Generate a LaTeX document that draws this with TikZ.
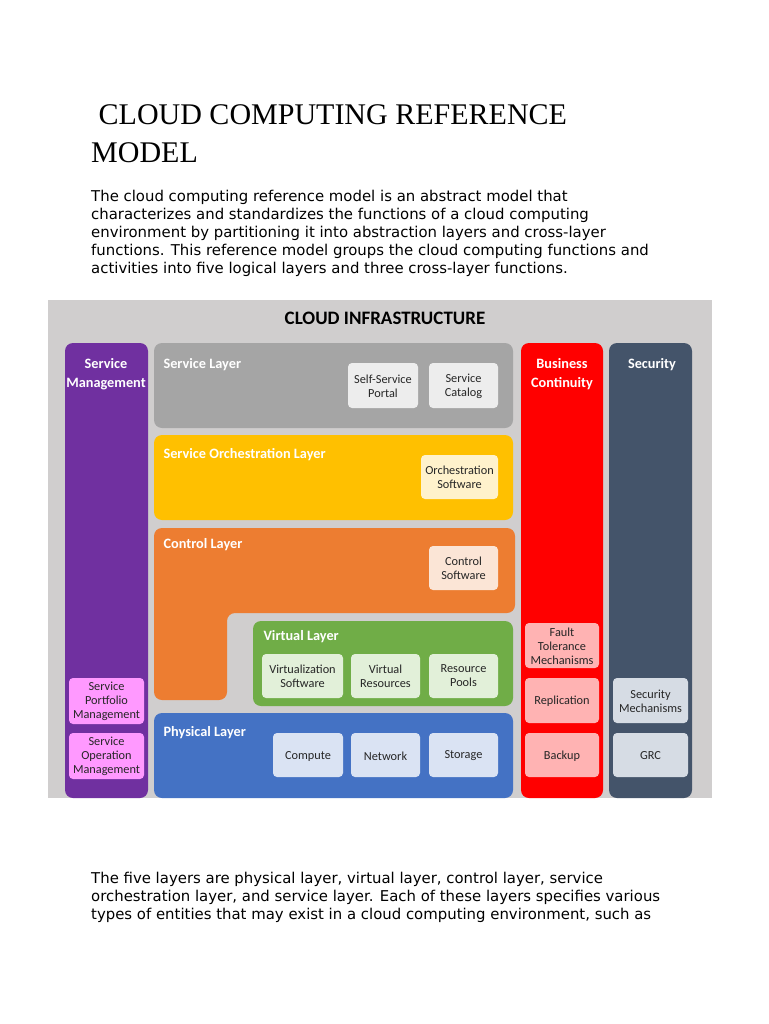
\documentclass[tikz,border=0pt]{standalone}
\usepackage{fontspec}
\setmainfont{DejaVu Sans}
\newfontfamily\myser{Liberation Serif}
\newfontfamily\mycal{Carlito}
\definecolor{bggray}{HTML}{D0CECE}
\definecolor{purp}{HTML}{7030A0}
\definecolor{pinkb}{HTML}{FF99FF}
\definecolor{lgray}{HTML}{A5A5A5}
\definecolor{boxg}{HTML}{EDEDED}
\definecolor{yel}{HTML}{FFC000}
\definecolor{boxy}{HTML}{FFF2CC}
\definecolor{ora}{HTML}{ED7D31}
\definecolor{boxo}{HTML}{FBE5D6}
\definecolor{grn}{HTML}{70AD47}
\definecolor{boxgr}{HTML}{E2F0D9}
\definecolor{blu}{HTML}{4472C4}
\definecolor{boxb}{HTML}{DAE3F3}
\definecolor{redb}{HTML}{FF0000}
\definecolor{boxr}{HTML}{FFB3B3}
\definecolor{sec}{HTML}{44546A}
\definecolor{boxs}{HTML}{D6DCE4}
\begin{document}
\begin{tikzpicture}[x=1pt,y=-1pt,
  lay/.style={rounded corners=8pt},
  sb/.style={rounded corners=4pt},
  bt/.style={font=\mycal\fontsize{12.3}{14}\selectfont,align=center,text=black!85},
  lt/.style={font=\mycal\bfseries\fontsize{14.3}{17}\selectfont,text=white,anchor=west},
  ct/.style={font=\mycal\bfseries\fontsize{14.3}{19}\selectfont,text=white,align=center},
  para/.style={font=\fontsize{14.9}{18}\selectfont,anchor=north west,align=left,inner sep=0}]
\useasboundingbox (0,0) rectangle (768,1024);
\fill[white] (0,0) rectangle (768,1024);
\node[font=\myser\fontsize{30}{38.5}\selectfont,anchor=north west,align=left,inner sep=0] (title) at (91,104) {\ CLOUD COMPUTING REFERENCE\\MODEL};
\node[para] (p1) at (91,190) {The cloud computing reference model is an abstract model that\\characterizes and standardizes the functions of a cloud computing\\environment by partitioning it into abstraction layers and cross-layer\\functions. This reference model groups the cloud computing functions and\\activities into five logical layers and three cross-layer functions.};
\node[para] (p2) at (91,872) {The five layers are physical layer, virtual layer, control layer, service\\orchestration layer, and service layer. Each of these layers specifies various\\types of entities that may exist in a cloud computing environment, such as};
% diagram
\fill[bggray] (48,300) rectangle (712,798);
\node[font=\mycal\bfseries\fontsize{19}{21}\selectfont] (ci) at (385,318) {CLOUD INFRASTRUCTURE};
% service management
\fill[purp,lay] (65,343) rectangle (148,798);
\node[ct] (sm) at (106,374) {Service\\Management};
\fill[pinkb,sb] (69,678) rectangle (144,724); \node[bt] (spm) at (106.5,701) {Service\\Portfolio\\Management};
\fill[pinkb,sb] (69,733) rectangle (144,779); \node[bt] (som) at (106.5,756) {Service\\Operation\\Management};
% service layer
\fill[lgray,lay] (154,343) rectangle (513,428);
\node[lt] (sl) at (160,365) {Service Layer};
\fill[boxg,sb] (348,363) rectangle (418,408); \node[bt] (ssp) at (383,386) {Self-Service\\Portal};
\fill[boxg,sb] (429,363) rectangle (498,408); \node[bt] (sc) at (463.5,386) {Service\\Catalog};
% orchestration
\fill[yel,lay] (154,435) rectangle (513,520);
\node[lt] (sol) at (160,455) {Service Orchestration Layer};
\fill[boxy,sb] (421,455) rectangle (498,499); \node[bt] (os) at (459.5,477) {Orchestration\\Software};
% control
\fill[ora,rounded corners=8pt] (154,528) -- (515,528) -- (515,613) -- (227,613) -- (227,700) -- (154,700) -- cycle;
\node[lt] (cl) at (160,545) {Control Layer};
\fill[boxo,sb] (429,546) rectangle (498,590); \node[bt] (cs) at (463.5,568) {Control\\Software};
% virtual
\fill[grn,lay] (253,621) rectangle (513,706);
\node[lt] (vl) at (260,637) {Virtual Layer};
\fill[boxgr,sb] (262,654) rectangle (343,698); \node[bt] (vs) at (302.5,676) {Virtualization\\Software};
\fill[boxgr,sb] (351,654) rectangle (420,698); \node[bt] (vr) at (385.5,676) {Virtual\\Resources};
\fill[boxgr,sb] (429,654) rectangle (498,698); \node[bt] (rp) at (463.5,676) {Resource\\Pools};
% physical
\fill[blu,lay] (154,713) rectangle (513,798);
\node[lt] (pl) at (160,733) {Physical Layer};
\fill[boxb,sb] (273,733) rectangle (343,777); \node[bt] (cp) at (308,756) {Compute};
\fill[boxb,sb] (351,733) rectangle (420,777); \node[bt] (nw) at (385.5,756) {Network};
\fill[boxb,sb] (429,733) rectangle (498,777); \node[bt] (st) at (463.5,756) {Storage};
% business continuity
\fill[redb,lay] (521,343) rectangle (603,798);
\node[ct] (bc) at (562,374) {Business\\Continuity};
\fill[boxr,sb] (525,623) rectangle (599,668); \node[bt] (ft) at (562,646) {Fault\\Tolerance\\Mechanisms};
\fill[boxr,sb] (525,678) rectangle (599,723); \node[bt] (rep) at (562,701) {Replication};
\fill[boxr,sb] (525,733) rectangle (599,777); \node[bt] (bk) at (562,756) {Backup};
% security
\fill[sec,lay] (609,343) rectangle (692,798);
\node[ct] (se) at (652,365) {Security};
\fill[boxs,sb] (613,678) rectangle (688,723); \node[bt] (sme) at (650.5,701) {Security\\Mechanisms};
\fill[boxs,sb] (613,733) rectangle (688,777); \node[bt] (grc) at (650.5,756) {GRC};
\end{tikzpicture}
\end{document}
